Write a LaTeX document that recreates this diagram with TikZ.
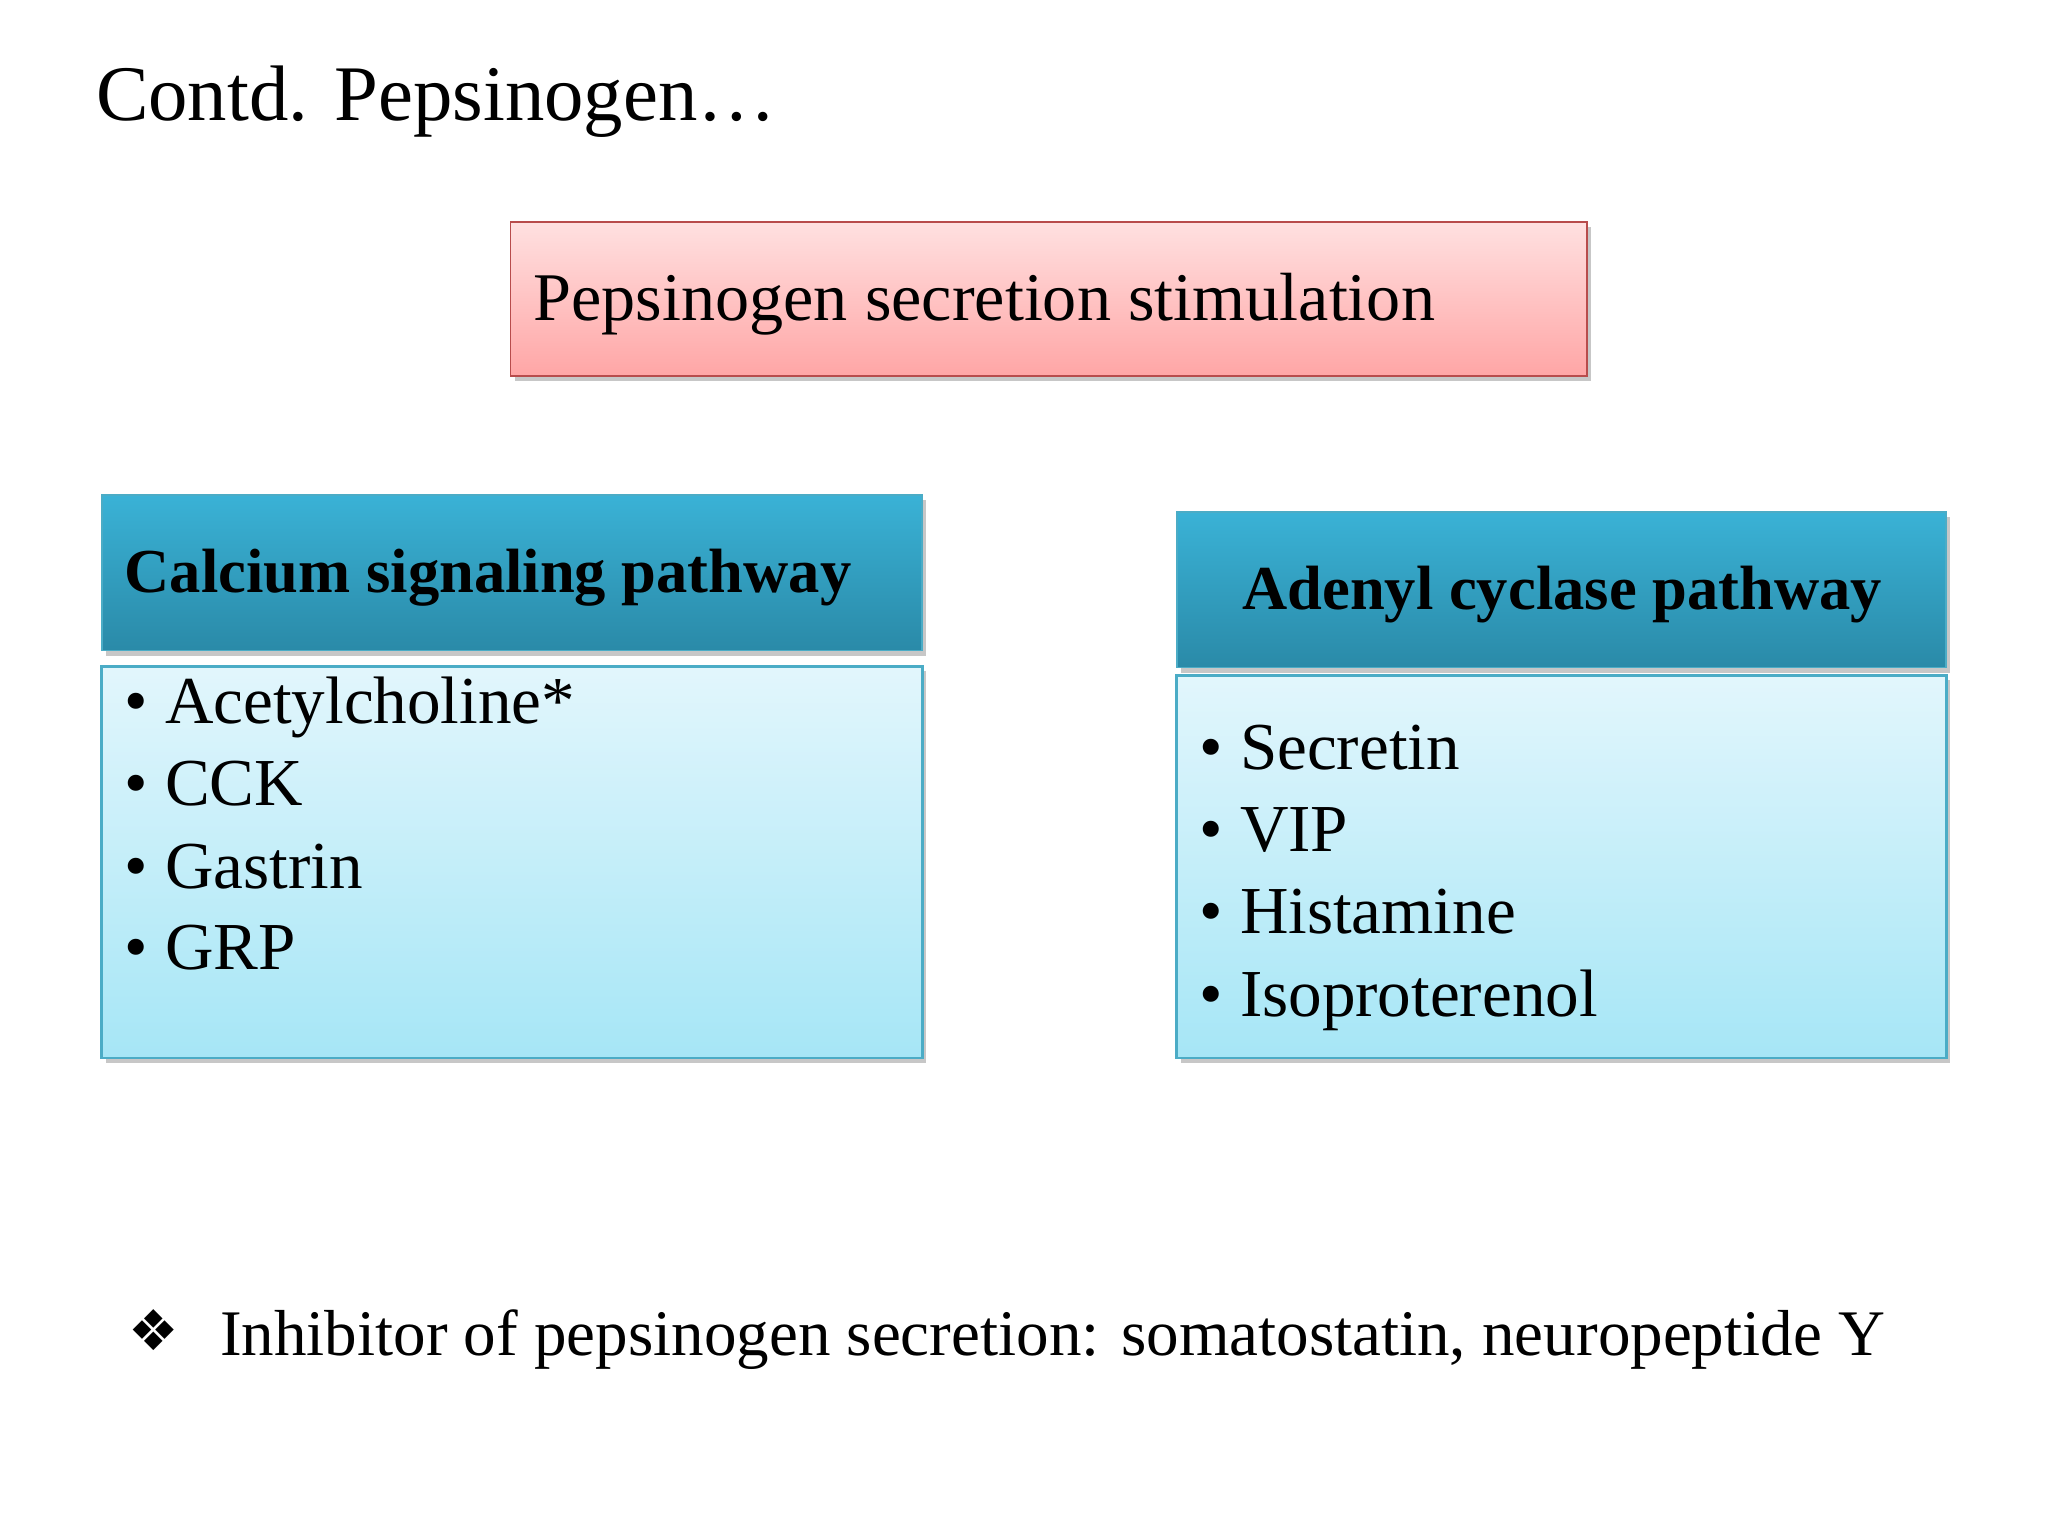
\documentclass[tikz,border=0pt]{standalone}
\usepackage{fontspec}
\setmainfont{Liberation Serif}
\newfontfamily\dejavu{DejaVu Sans}
\begin{document}
\begin{tikzpicture}[x=0.013061cm,y=-0.013061cm,
  shadowbox/.style={fill=black!22},
  pinkbox/.style={top color=red!12,bottom color=red!35!white!100,draw=red!60!black!70},
  headbox/.style={top color={rgb,255:red,58;green,178;blue,214},bottom color={rgb,255:red,42;green,138;blue,168},draw={rgb,255:red,75;green,172;blue,198}},
  listbox/.style={top color={rgb,255:red,226;green,246;blue,252},bottom color={rgb,255:red,166;green,230;blue,246},draw={rgb,255:red,75;green,172;blue,198},line width=0.8pt},
  item/.style={anchor=base west,font=\fontsize{19.1}{23}\selectfont,inner sep=0pt},
  head/.style={font=\fontsize{17.8}{22}\selectfont\bfseries,inner sep=0pt}]
\useasboundingbox[fill=white] (0,0) rectangle (1568,1176);
\node[anchor=base west,inner sep=0pt,font=\fontsize{22.4}{27}\selectfont] (title) at (73,92) {Contd. Pepsinogen…};
% pink box
\fill[shadowbox] (394,174) rectangle (1218,292);
\shade[pinkbox] (391,170) rectangle (1215,288);
\node[anchor=west,inner sep=0pt,font=\fontsize{19.4}{24}\selectfont] (stim) at (408,233) {Pepsinogen secretion stimulation};
% left
\fill[shadowbox] (81,383) rectangle (709,502);
\shade[headbox] (78,379) rectangle (706,498);
\node[head,anchor=west] (calc) at (95,442) {Calcium signaling pathway};
\fill[shadowbox] (81,514) rectangle (709,814);
\shade[listbox] (78,510) rectangle (706,810);
\node[item] (l1) at (95,554) {• Acetylcholine*};
\node[item] (l2) at (95,617) {• CCK};
\node[item] (l3) at (95,680) {• Gastrin};
\node[item] (l4) at (95,742) {• GRP};
% right
\fill[shadowbox] (904,396) rectangle (1493,515);
\shade[headbox] (901,392) rectangle (1490,511);
\node[head] (aden) at (1196,455) {Adenyl cyclase pathway};
\fill[shadowbox] (904,521) rectangle (1493,814);
\shade[listbox] (901,517) rectangle (1490,810);
\node[item] (r1) at (918,589) {• Secretin};
\node[item] (r2) at (918,652) {• VIP};
\node[item] (r3) at (918,715) {• Histamine};
\node[item] (r4) at (918,778) {• Isoproterenol};
% bottom
\node[anchor=base west,inner sep=0pt,font=\dejavu\fontsize{16}{20}\selectfont] (sym) at (98,1034) {❖};
\node[anchor=base west,inner sep=0pt,font=\fontsize{18.5}{22}\selectfont] (inh) at (168,1038) {Inhibitor of pepsinogen secretion: somatostatin, neuropeptide Y};
\end{tikzpicture}
\end{document}
